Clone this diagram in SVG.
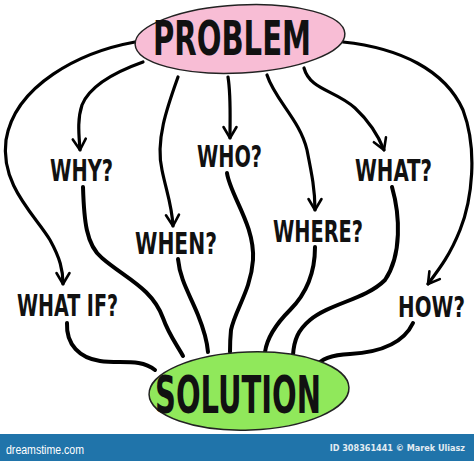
<svg xmlns="http://www.w3.org/2000/svg" width="474" height="461" viewBox="0 0 474 461">
<defs>
<style>
.lbl{font-family:"Liberation Sans Narrow","DejaVu Sans Condensed","Liberation Sans",sans-serif;font-weight:700;fill:#111;text-anchor:middle}
.arr{fill:none;stroke:#000;stroke-width:3.2;stroke-linecap:round;marker-end:url(#ah)}
.ln{fill:none;stroke:#000;stroke-width:4;stroke-linecap:round}
</style>
<marker id="ah" viewBox="-14 -9 18 18" markerWidth="18" markerHeight="18" markerUnits="userSpaceOnUse" refX="0" refY="0" orient="auto">
<path d="M-11,-6.5 L0,0 L-11,6.5" fill="none" stroke="#000" stroke-width="2.6" stroke-linecap="round" stroke-linejoin="round"/>
</marker>
</defs>
<rect width="474" height="461" fill="#fff"/>
<g id="connectors">
<path class="arr" d="M135,42 C80,52 15,85 6,140 C0,185 35,215 50,240 C60,258 63,270 63,284"/>
<path class="arr" d="M143,62 C115,72 90,85 82,105 C77,120 79,135 80,150"/>
<path class="arr" d="M178,77 C168,105 155,140 162,170 C166,190 172,205 173,226"/>
<path class="arr" d="M228,77 C231,95 230,115 230,138"/>
<path class="arr" d="M267,75 C275,100 300,120 307,150 C312,175 315,190 315,210"/>
<path class="arr" d="M304,68 C310,90 335,90 355,108 C370,122 378,135 384,150"/>
<path class="arr" d="M343,42 C400,48 445,70 463,110 C478,150 472,200 460,230 C450,255 440,268 428,284"/>
<path class="ln" stroke-width="3.2" d="M67,323 C66,345 80,358 100,361 C120,364 140,358 155,370"/>
<path class="ln" d="M83,187 C84,220 86,245 102,258 C125,278 152,288 163,318 C169,335 177,345 183,356"/>
<path class="ln" d="M178,259 C180,280 190,295 198,315 C204,330 207,340 208,352"/>
<path class="ln" d="M227,173 C230,195 255,225 253,260 C251,290 235,310 231,330 C230,340 230,345 230,352"/>
<path class="ln" d="M315,247 C315,275 305,295 290,310 C275,325 267,338 265,352"/>
<path class="ln" d="M392,187 C400,215 402,255 385,280 C365,300 330,303 310,320 C298,330 294,340 293,355"/>
<path class="ln" stroke-width="3.2" d="M413,323 C405,340 385,352 350,354 C330,355 320,360 317,366"/>
</g>
<g id="problem">
<ellipse cx="240" cy="39" rx="105" ry="34" transform="rotate(-3 240 39)" fill="#f8bdd5" stroke="#222" stroke-width="1.5"/>
<text class="lbl" x="232" y="55" font-size="48" textLength="158" lengthAdjust="spacingAndGlyphs">PROBLEM</text>
</g>
<g id="solution">
<ellipse cx="249" cy="391" rx="100" ry="39" transform="rotate(-2 249 391)" fill="#90e85b" stroke="#222" stroke-width="1.5"/>
<text class="lbl" x="238" y="413" font-size="52" textLength="166" lengthAdjust="spacingAndGlyphs">SOLUTION</text>
</g>
<g id="why"><text class="lbl" x="81.5" y="181" font-size="31" textLength="63" lengthAdjust="spacingAndGlyphs">WHY?</text></g>
<g id="who"><text class="lbl" x="229.5" y="167" font-size="31" textLength="65" lengthAdjust="spacingAndGlyphs">WHO?</text></g>
<g id="what"><text class="lbl" x="393.5" y="181" font-size="31" textLength="77" lengthAdjust="spacingAndGlyphs">WHAT?</text></g>
<g id="when"><text class="lbl" x="176" y="254" font-size="31" textLength="82" lengthAdjust="spacingAndGlyphs">WHEN?</text></g>
<g id="where"><text class="lbl" x="318" y="242" font-size="31" textLength="90" lengthAdjust="spacingAndGlyphs">WHERE?</text></g>
<g id="whatif"><text class="lbl" x="67.5" y="316" font-size="31" textLength="101" lengthAdjust="spacingAndGlyphs">WHAT IF?</text></g>
<g id="how"><text class="lbl" transform="translate(431.5 317) scale(0.76 1)" x="0" y="0" font-size="29">HOW?</text></g>
<g id="footer">
<rect x="0" y="434" width="474" height="27" fill="#2074aa"/>
<text x="6" y="454" font-family="'Liberation Sans',sans-serif" font-size="13" fill="#fff" textLength="78" lengthAdjust="spacingAndGlyphs">dreamstime.com</text>
<text x="465" y="451" font-family="'Liberation Sans Narrow','DejaVu Sans Condensed',sans-serif" font-weight="700" font-size="9" fill="#e3ecf2" text-anchor="end">ID 308361441 © Marek Uliasz</text>
</g>
</svg>
